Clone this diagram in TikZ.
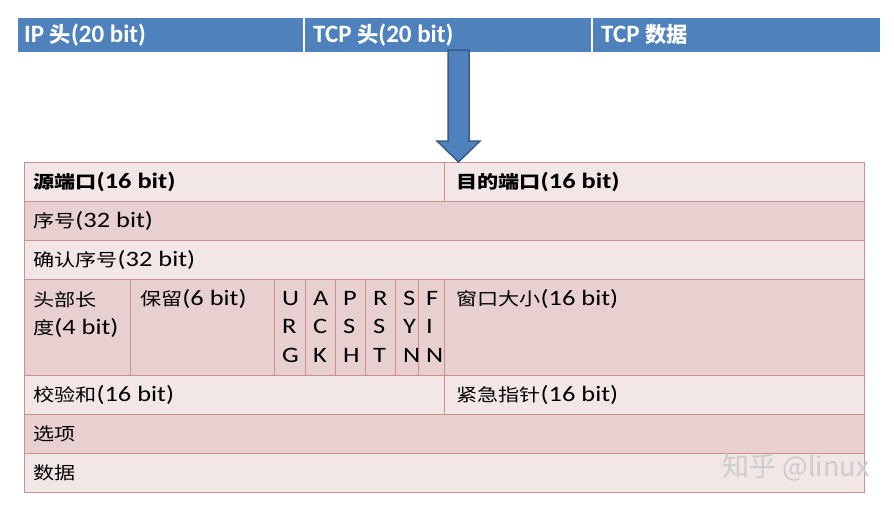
\documentclass[tikz,border=0pt]{standalone}
\usepackage{fontspec}
\setmainfont{Carlito}[FakeStretch=1.2]
\newfontfamily\cjkfont{Noto Sans CJK SC}[FakeStretch=1.2,Scale=0.8]
\newfontfamily\barfont{Carlito}
\newfontfamily\barcjkfont{Noto Sans CJK SC}[Scale=0.85]
\newfontfamily\wmfont{Noto Sans CJK SC}
\newcommand{\zh}[1]{{\cjkfont #1}}
\newcommand{\barzh}[1]{{\barcjkfont #1}}
\usetikzlibrary{calc}

\begin{document}
\begin{tikzpicture}
		[x=1pt,y=-1pt,line join=miter,
		%Styles
		barcell/.style={draw=white,line width=1.5pt,fill=barblue,anchor=north west,minimum height=36,inner sep=0pt},
		bar text/.style={anchor=west,inner sep=0pt,text=white,font=\barfont\bfseries\fontsize{25}{28}\selectfont},
		cell/.style={draw=gridred,line width=0.8pt,anchor=north west,inner sep=0pt},
		light/.style={cell,fill=rowlight},
		dark/.style={cell,fill=rowdark},
		cell text/.style={anchor=west,inner sep=0pt,font=\fontsize{22}{28.5}\selectfont},
		multi text/.style={anchor=north west,align=left,inner sep=0pt,font=\fontsize{22}{28.5}\selectfont},
		big arrow/.style={draw=arrowblue,line width=1.5pt,fill=barblue},
		watermark/.style={inner sep=0pt,text=gray!40,font=\wmfont\fontsize{27}{30}\selectfont}
		]
		
		%Colors
		\definecolor{barblue}{HTML}{4F81BD}
		\definecolor{arrowblue}{HTML}{385D8A}
		\definecolor{gridred}{HTML}{CF8F8D}
		\definecolor{rowlight}{HTML}{F2E6E6}
		\definecolor{rowdark}{HTML}{E8CFD0}
		
		\useasboundingbox (0,0) rectangle (894,506);
		
		%The packet bar
		\node[barcell,minimum width=287] (iphead) at (16,16) {};
		\node[barcell,minimum width=288] (tcphead) at (303,16) {};
		\node[barcell,minimum width=289] (tcpdata) at (591,16) {};
		\node[bar text] (iptext) at ([xshift=8pt]iphead.west) {IP \barzh{头}(20 bit)};
		\node[bar text] (tcpheadtext) at ([xshift=10pt]tcphead.west) {TCP \barzh{头}(20 bit)};
		\node[bar text] (tcpdatatext) at ([xshift=10pt]tcpdata.west) {TCP \barzh{数据}};
		
		%The header table
		\node[light,minimum width=420,minimum height=39] (srcport) at (24,162) {};
		\node[light,minimum width=420,minimum height=39] (dstport) at (444,162) {};
		\node[dark,minimum width=840,minimum height=39] (seqno) at (24,201) {};
		\node[light,minimum width=840,minimum height=39] (ackno) at (24,240) {};
		\node[dark,minimum width=106,minimum height=96] (hdrlen) at (24,279) {};
		\node[dark,minimum width=144,minimum height=96] (rsvd) at (130,279) {};
		\foreach \f/\x/\w in {urg/274/31, ack/305/30, psh/335/30, rst/365/30, syn/395/23, fin/418/26}
			\node[dark,minimum width=\w,minimum height=96] (\f) at (\x,279) {};
		\node[dark,minimum width=420,minimum height=96] (window) at (444,279) {};
		\node[light,minimum width=420,minimum height=39] (checksum) at (24,375) {};
		\node[light,minimum width=420,minimum height=39] (urgptr) at (444,375) {};
		\node[dark,minimum width=840,minimum height=39] (options) at (24,414) {};
		\node[light,minimum width=840,minimum height=39] (payload) at (24,453) {};
		
		%Texts
		\node[cell text] (srcporttext) at ([xshift=9pt]srcport.west) {\bfseries\zh{源端口}(16 bit)};
		\node[cell text] (dstporttext) at ([xshift=12pt]dstport.west) {\bfseries\zh{目的端口}(16 bit)};
		\node[cell text] (seqnotext) at ([xshift=9pt]seqno.west) {\zh{序号}(32 bit)};
		\node[cell text] (acknotext) at ([xshift=9pt]ackno.west) {\zh{确认序号}(32 bit)};
		\node[multi text] (hdrlentext) at ([xshift=9pt,yshift=-12pt]hdrlen.north west) {\zh{头部长}\\\zh{度}(4 bit)};
		\node[multi text] (rsvdtext) at ([xshift=10pt,yshift=-10pt]rsvd.north west) {\zh{保留}(6 bit)};
		\foreach \f/\a/\b/\c in {urg/U/R/G, ack/A/C/K, psh/P/S/H, rst/R/S/T, syn/S/Y/N, fin/F/I/N}
			\node[multi text] (text-\f) at ([xshift=8pt,yshift=-12pt]\f.north west) {\a\\\b\\\c};
		\node[multi text] (windowtext) at ([xshift=12pt,yshift=-10pt]window.north west) {\zh{窗口大小}(16 bit)};
		\node[cell text] (checksumtext) at ([xshift=9pt]checksum.west) {\zh{校验和}(16 bit)};
		\node[cell text] (urgptrtext) at ([xshift=12pt]urgptr.west) {\zh{紧急指针}(16 bit)};
		\node[cell text] (optionstext) at ([xshift=9pt]options.west) {\zh{选项}};
		\node[cell text] (payloadtext) at ([xshift=9pt]payload.west) {\zh{数据}};
		
		%The arrow
		\coordinate (arrtop) at (458.5,50);
		\coordinate (arrtip) at (458.5,162);
		\draw[big arrow] ($(arrtop)+(-10.5,0)$) -- ($(arrtop)+(10.5,0)$) -- ($(arrtip)+(10.5,-21)$)
			-- ($(arrtip)+(21.5,-21)$) -- (arrtip) -- ($(arrtip)+(-21.5,-21)$) -- ($(arrtip)+(-10.5,-21)$) -- cycle;
		
		\node[watermark] (zhihu) at (796,467) {知乎 @linux};
	\end{tikzpicture}
\end{document}
